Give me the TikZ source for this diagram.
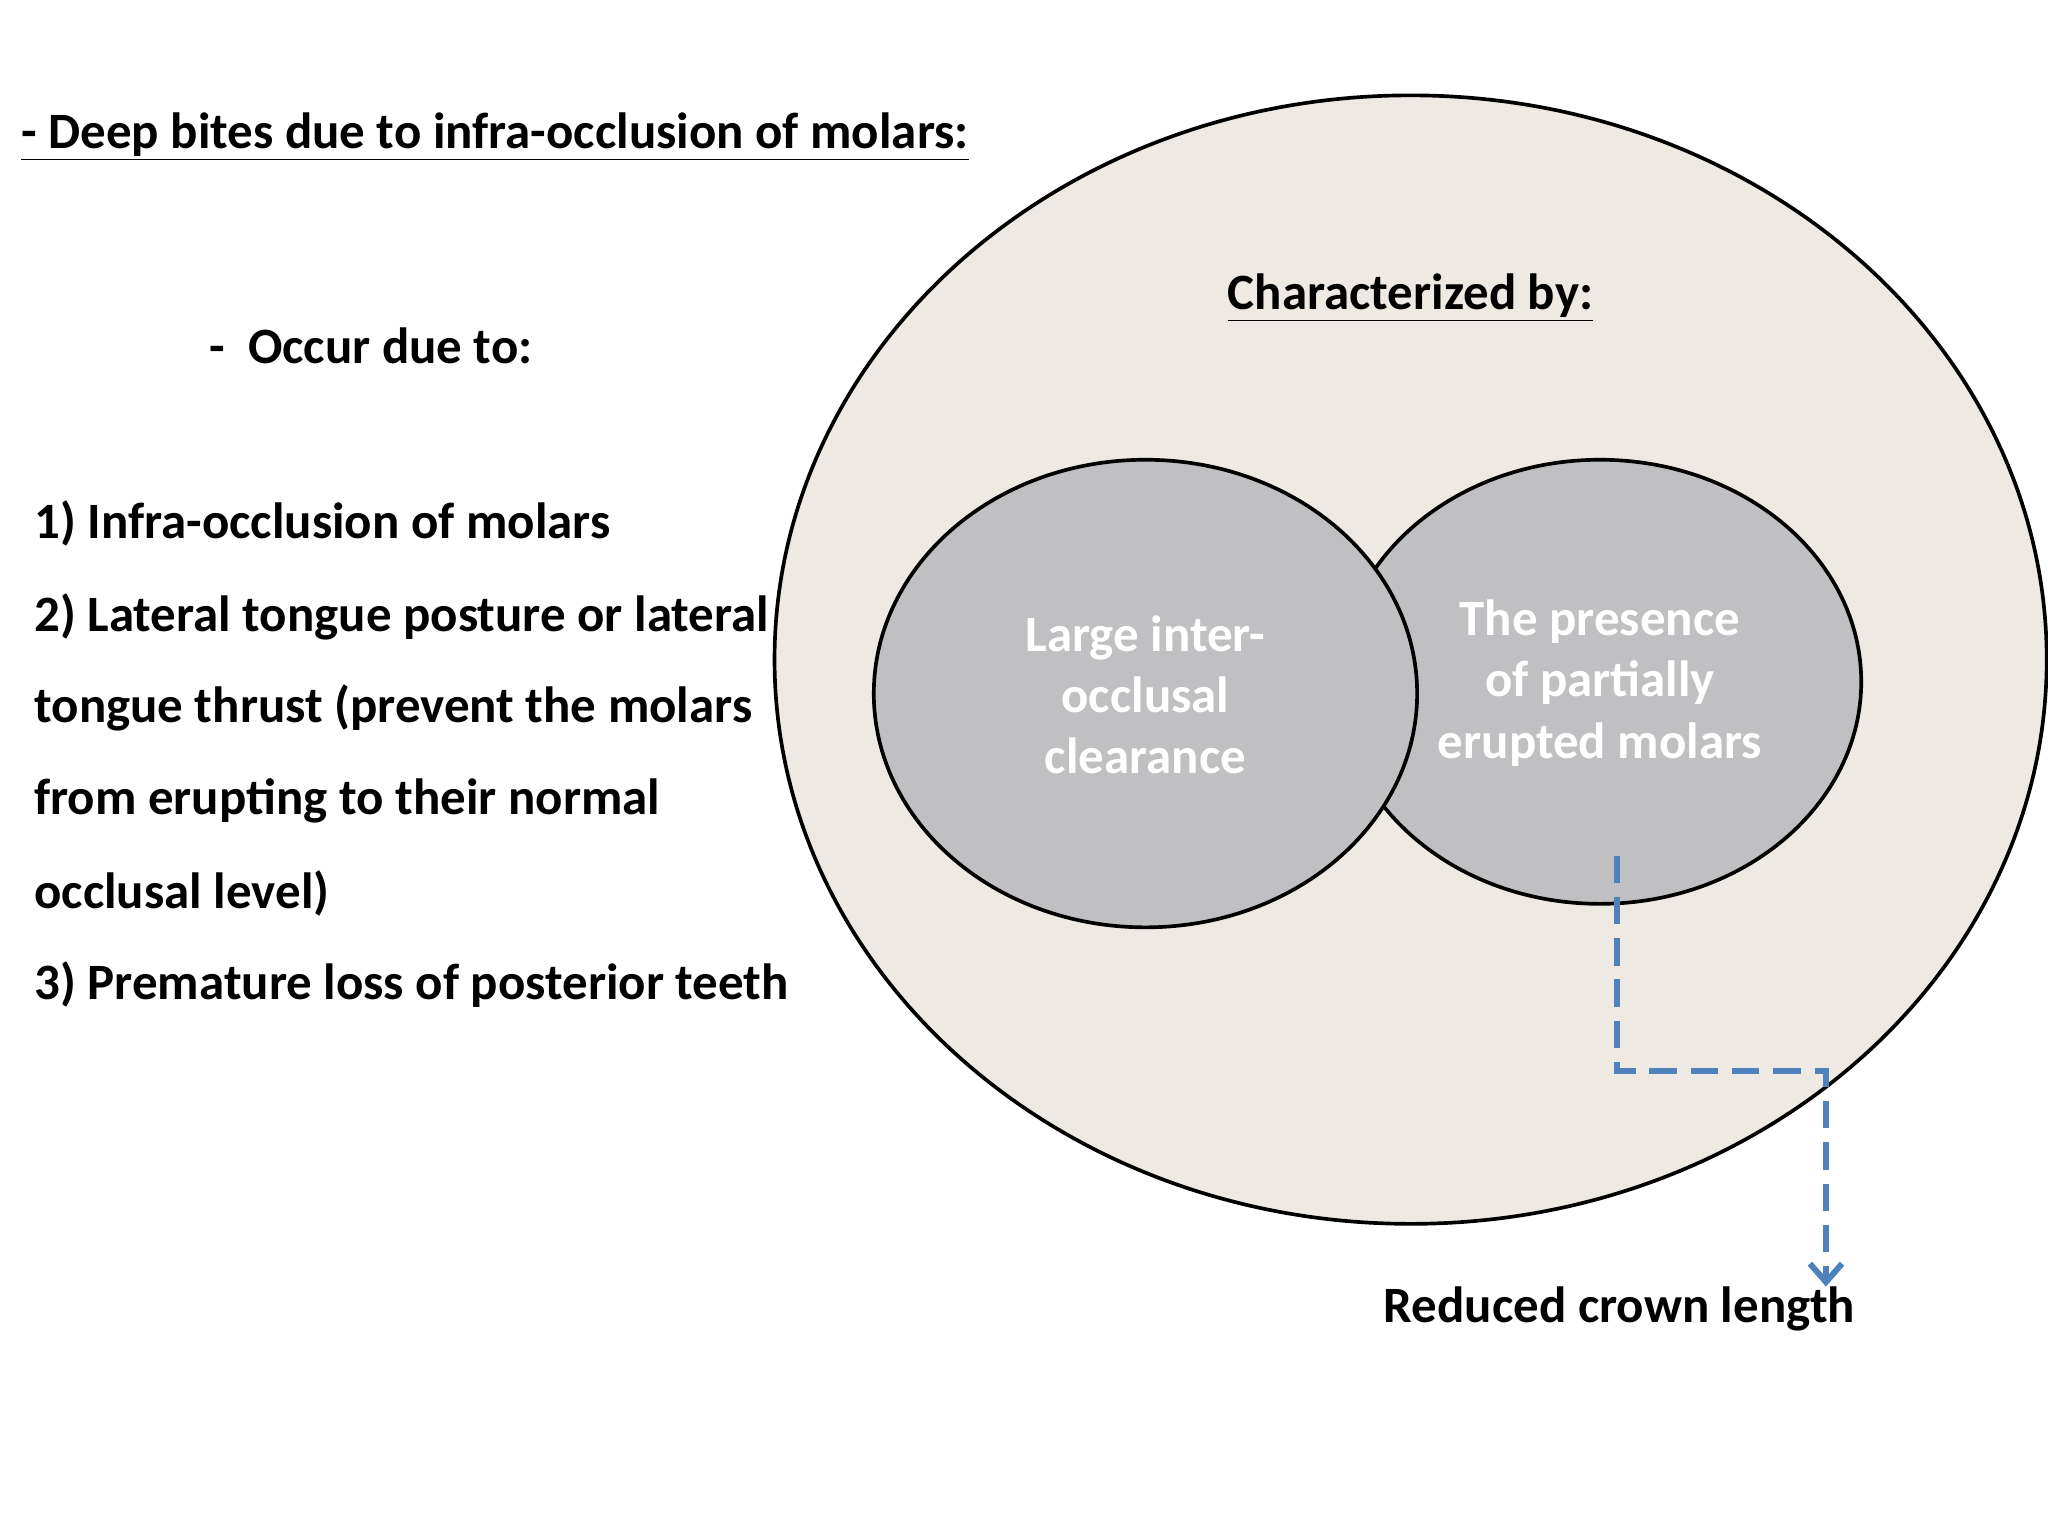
\documentclass[tikz,border=0pt]{standalone}
\usepackage{fontspec}
\setmainfont{Carlito}
\usetikzlibrary{arrows.meta}
\definecolor{beige}{HTML}{EEEAE3}
\definecolor{grayfill}{HTML}{C0BFC2}
\definecolor{dashblue}{HTML}{4F81BD}
\newcommand{\myul}[1]{\underline{#1}}
\begin{document}
\begin{tikzpicture}[x=0.02cm,y=-0.02cm,
  txt/.style={font=\fontsize{22.2}{26}\selectfont\bfseries,inner sep=0pt},
  lft/.style={txt,anchor=west},
  wtxt/.style={txt,text=white,align=center,font=\fontsize{22.2}{26.7}\selectfont\bfseries},
  oline/.style={line width=1.6pt}]
\useasboundingbox (0,0) rectangle (1568,1176);
\fill[white] (0,0) rectangle (1568,1176);
\draw[oline,fill=beige] (1080,505) ellipse [x radius=487, y radius=432];
\draw[oline,fill=grayfill] (1225,522) ellipse [x radius=200, y radius=170];
\draw[oline,fill=grayfill] (877,531) ellipse [x radius=208, y radius=179];
\node[lft] (title) at (16,105) {\myul{- Deep bites due to infra-occlusion of molars:}};
\node[lft] (occur) at (160,265) {-\ \ Occur due to:};
\node[lft] (l1) at (26,401) {1) Infra-occlusion of molars};
\node[lft] (l2) at (26,472) {2) Lateral tongue posture or lateral};
\node[lft] (l3) at (26,542) {tongue thrust (prevent the molars};
\node[lft] (l4) at (26,613) {from erupting to their normal};
\node[lft] (l5) at (26,684) {occlusal level)};
\node[lft] (l6) at (26,754) {3) Premature loss of posterior teeth};
\node[txt] (char) at (1080,228) {\myul{Characterized by:}};
\node[wtxt] (large) at (877,532) {Large inter-\\occlusal\\clearance};
\node[wtxt] (pres) at (1225,523) {The presence\\of partially\\erupted molars};
\node[txt] (red) at (1240,1002) {Reduced crown length};
\coordinate (s) at (1238,655);
\coordinate (c1) at (1238,820);
\coordinate (c2) at (1398,820);
\coordinate (e) at (1398,985);
\draw[dashblue,line width=2.6pt,dash pattern=on 12pt off 6pt,-{Straight Barb[length=8pt,width=14pt,line width=2.6pt]}] (s) -- (c1) -- (c2) -- (e);
\end{tikzpicture}
\end{document}
